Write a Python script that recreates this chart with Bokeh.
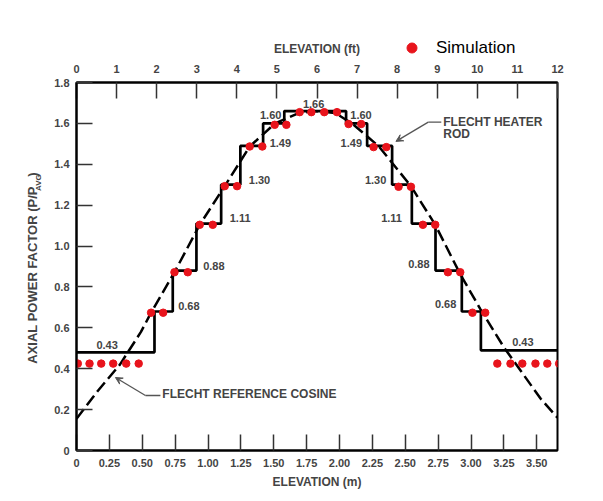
from math import pi
from bokeh.plotting import figure
from bokeh.layouts import column, row
from bokeh.models import (Range1d, LinearAxis, FixedTicker, PrintfTickFormatter,
                          Arrow, VeeHead, Legend, LegendItem, ColumnDataSource)
from bokeh.core.properties import value
from bokeh.embed import file_html
from bokeh.resources import INLINE

# ---------------- data ----------------
# FLECHT heater rod step profile (edges in m, step value drawn)
step_edges = [0.0, 0.593, 0.732, 0.912, 1.10, 1.246, 1.419, 1.58, 2.05, 2.21, 2.40, 2.55, 2.73, 2.93, 3.075, 3.6576]
step_vals = [0.48, 0.68, 0.88, 1.11, 1.30, 1.49, 1.60, 1.66, 1.60, 1.49, 1.30, 1.11, 0.88, 0.68, 0.49]

# FLECHT reference cosine (dashed)
cos_x = [0.0, 0.16, 0.33, 0.49, 0.567, 0.745, 0.937, 1.127, 1.317, 1.51, 1.69, 1.83, 1.97, 2.10,
         2.30, 2.543, 2.728, 2.92, 3.07, 3.25, 3.53, 3.6576]
cos_y = [0.155, 0.29, 0.42, 0.58, 0.674, 0.872, 1.104, 1.293, 1.487, 1.60, 1.65, 1.66, 1.65, 1.597,
         1.487, 1.293, 1.104, 0.86, 0.693, 0.505, 0.253, 0.16]

# Simulation points
sim_x = [0.01, 0.099, 0.188, 0.279, 0.378, 0.473, 0.567, 0.659, 0.745, 0.846, 0.937, 1.036,
         1.127, 1.221, 1.317, 1.413, 1.507, 1.596, 1.697, 1.786, 1.884, 1.981, 2.069, 2.165,
         2.259, 2.356, 2.449, 2.543, 2.634, 2.728, 2.824, 2.918, 3.011, 3.108, 3.20, 3.30,
         3.39, 3.49, 3.58, 3.67]
sim_y = [0.425, 0.425, 0.425, 0.425, 0.425, 0.425, 0.674, 0.674, 0.872, 0.872, 1.104, 1.104,
         1.293, 1.293, 1.487, 1.487, 1.593, 1.593, 1.655, 1.655, 1.655, 1.655, 1.597, 1.597,
         1.484, 1.484, 1.29, 1.29, 1.104, 1.104, 0.872, 0.872, 0.674, 0.674, 0.425, 0.425,
         0.425, 0.425, 0.425, 0.425]

# step value labels
lab_text = ["0.43", "0.68", "0.88", "1.11", "1.30", "1.49", "1.60", "1.66",
            "1.60", "1.49", "1.30", "1.11", "0.88", "0.68", "0.43"]
lab_x = [0.233, 0.773, 0.963, 1.165, 1.31, 1.469, 1.558, 1.803,
         2.082, 2.171, 2.356, 2.475, 2.685, 2.888, 3.394]
lab_y = [0.517, 0.706, 0.902, 1.136, 1.324, 1.505, 1.642, 1.696,
         1.642, 1.505, 1.324, 1.138, 0.91, 0.718, 0.533]
lab_align = ["center", "left", "left", "left", "left", "left", "right", "center",
             "left", "right", "right", "right", "right", "right", "center"]

# axes ticks
m_ticks = [0, 0.25, 0.5, 0.75, 1.0, 1.25, 1.5, 1.75, 2.0, 2.25, 2.5, 2.75, 3.0, 3.25, 3.5]
ft_ticks = [0, 1, 2, 3, 4, 5, 6, 7, 8, 9, 10, 11, 12]
y_ticks = [0, 0.2, 0.4, 0.6, 0.8, 1.0, 1.2, 1.4, 1.6, 1.8]

FONT = "Liberation Sans"
TXT = "#444444"
RED = "#e8141c"

TOP_H = 60      # strip above the main plot (top-axis title + legend)
LEFT_W = 46     # strip left of the main plot (y-axis title)
W, H = 603, 501

# ---------------- main plot ----------------
p = figure(width=W - LEFT_W, height=H - TOP_H, x_range=Range1d(0, 3.6576), y_range=Range1d(0, 1.8),
           output_backend="svg", toolbar_location=None,
           min_border_left=30, min_border_right=46, min_border_top=22, min_border_bottom=51)
p.extra_x_ranges = {"ft": Range1d(0, 12)}
p.xgrid.visible = False
p.ygrid.visible = False
p.outline_line_color = "black"
p.outline_line_width = 2
p.background_fill_color = "white"
p.border_fill_color = "white"

bottom_axis = p.below[0]
left_axis = p.left[0]
top_axis = LinearAxis(x_range_name="ft", ticker=FixedTicker(ticks=ft_ticks))
p.add_layout(top_axis, "above")

bottom_axis.ticker = FixedTicker(ticks=m_ticks)
bottom_axis.formatter = PrintfTickFormatter(format="%.2f")
bottom_axis.major_label_overrides = {0: "0"}
bottom_axis.axis_label = "ELEVATION (m)"
left_axis.ticker = FixedTicker(ticks=y_ticks)
left_axis.formatter = PrintfTickFormatter(format="%.1f")
left_axis.major_label_overrides = {0: "0"}

for ax in [bottom_axis, left_axis, top_axis]:
    ax.axis_line_color = "black"
    ax.axis_line_width = 2
    ax.major_tick_line_color = "#333333"
    ax.major_tick_line_width = 1.5
    ax.major_tick_in = 16
    ax.major_tick_out = 0
    ax.minor_tick_in = 0
    ax.minor_tick_out = 0
    ax.major_label_text_font = FONT
    ax.major_label_text_font_style = "bold"
    ax.major_label_text_font_size = "11px"
    ax.major_label_text_color = TXT
    ax.axis_label_text_font = FONT
    ax.axis_label_text_font_style = "bold"
    ax.axis_label_text_font_size = "12px"
    ax.axis_label_text_color = TXT

left_axis.major_label_standoff = 7
top_axis.major_label_standoff = 10
bottom_axis.major_label_standoff = 8
bottom_axis.axis_label_standoff = 5

# heater rod step
step_y = step_vals + [step_vals[-1]]
p.step(step_edges, step_y, mode="after", line_color="black", line_width=2.7)

# reference cosine
p.line(cos_x, cos_y, line_color="black", line_width=2.5, line_dash="12 5")

# simulation
sim = p.scatter(sim_x, sim_y, size=7.5, marker="circle", fill_color=RED, line_color=RED)

# step labels
for al in ["left", "right", "center"]:
    idx = [i for i, a in enumerate(lab_align) if a == al]
    src = ColumnDataSource(dict(x=[lab_x[i] for i in idx], y=[lab_y[i] for i in idx],
                                t=[lab_text[i] for i in idx]))
    p.text("x", "y", text="t", source=src, text_align=al, text_baseline="middle",
           text_font=value(FONT), text_font_style="bold", text_font_size="11px", text_color=TXT)

# annotation texts
ann_text = ["FLECHT HEATER", "ROD", "FLECHT REFERENCE COSINE"]
ann_x = [2.789, 2.789, 0.653]
ann_y = [1.606, 1.546, 0.274]
p.text(ann_x, ann_y, text=ann_text, text_align="left", text_baseline="middle",
       text_font=value(FONT), text_font_style="bold", text_font_size="12px", text_color=TXT)

# leaders
p.segment(x0=[2.774, 0.638], y0=[1.606, 0.269], x1=[2.675, 0.524], y1=[1.606, 0.269],
          line_color="#555555", line_width=1.3)
p.add_layout(Arrow(end=VeeHead(size=7, fill_color="#555555", line_color="#555555"),
                   x_start=2.675, y_start=1.606, x_end=2.429, y_end=1.512,
                   line_color="#555555", line_width=1.3))
p.add_layout(Arrow(end=VeeHead(size=7, fill_color="#555555", line_color="#555555"),
                   x_start=0.524, y_start=0.269, x_end=0.296, y_end=0.357,
                   line_color="#555555", line_width=1.3))


def strip(width, height):
    f = figure(width=width, height=height, x_range=Range1d(0, width), y_range=Range1d(0, height),
               output_backend="svg", toolbar_location=None, min_border=0,
               x_axis_type=None, y_axis_type=None)
    f.xgrid.visible = False
    f.ygrid.visible = False
    f.outline_line_color = None
    f.background_fill_color = "white"
    f.border_fill_color = "white"
    return f


# ---------------- top strip: top-axis title + legend ----------------
top = strip(W, TOP_H)
top.text([316.5], [12], text=["ELEVATION (ft)"], text_align="center", text_baseline="middle",
         text_font=value(FONT), text_font_style="bold", text_font_size="12px", text_color=TXT)
# legend proxy (no visible point; only its style is used by the legend)
leg_r = top.scatter(x=[float("nan")], y=[float("nan")], size=10, marker="circle",
                    fill_color=RED, line_color=RED)
legend = Legend(items=[LegendItem(label="Simulation", renderers=[leg_r])],
                location=(399, 0), glyph_width=25, glyph_height=25, label_standoff=12,
                padding=0, spacing=0, margin=0, border_line_color=None,
                background_fill_alpha=0, label_text_font=FONT, label_text_font_size="17px",
                label_text_color="black", label_height=25)
top.add_layout(legend)

# ---------------- left strip: y-axis title with subscript ----------------
left = strip(LEFT_W, H - TOP_H)
ylab_text = ["AXIAL POWER FACTOR (P/P", "AVG", ")"]
ylab_x = [31.5, 37.5, 31.5]
ylab_y = [104, 311, 328]
ylab_size = ["13px", "8px", "13px"]
for t, x, y, s in zip(ylab_text, ylab_x, ylab_y, ylab_size):
    left.text([x], [y], text=[t], angle=pi / 2, text_align="left", text_baseline="middle",
              text_font=value(FONT), text_font_style="bold", text_font_size=s, text_color=TXT)

layout = column(top, row(left, p, spacing=0), spacing=0)
open("out.html", "w").write(file_html(layout, INLINE))
